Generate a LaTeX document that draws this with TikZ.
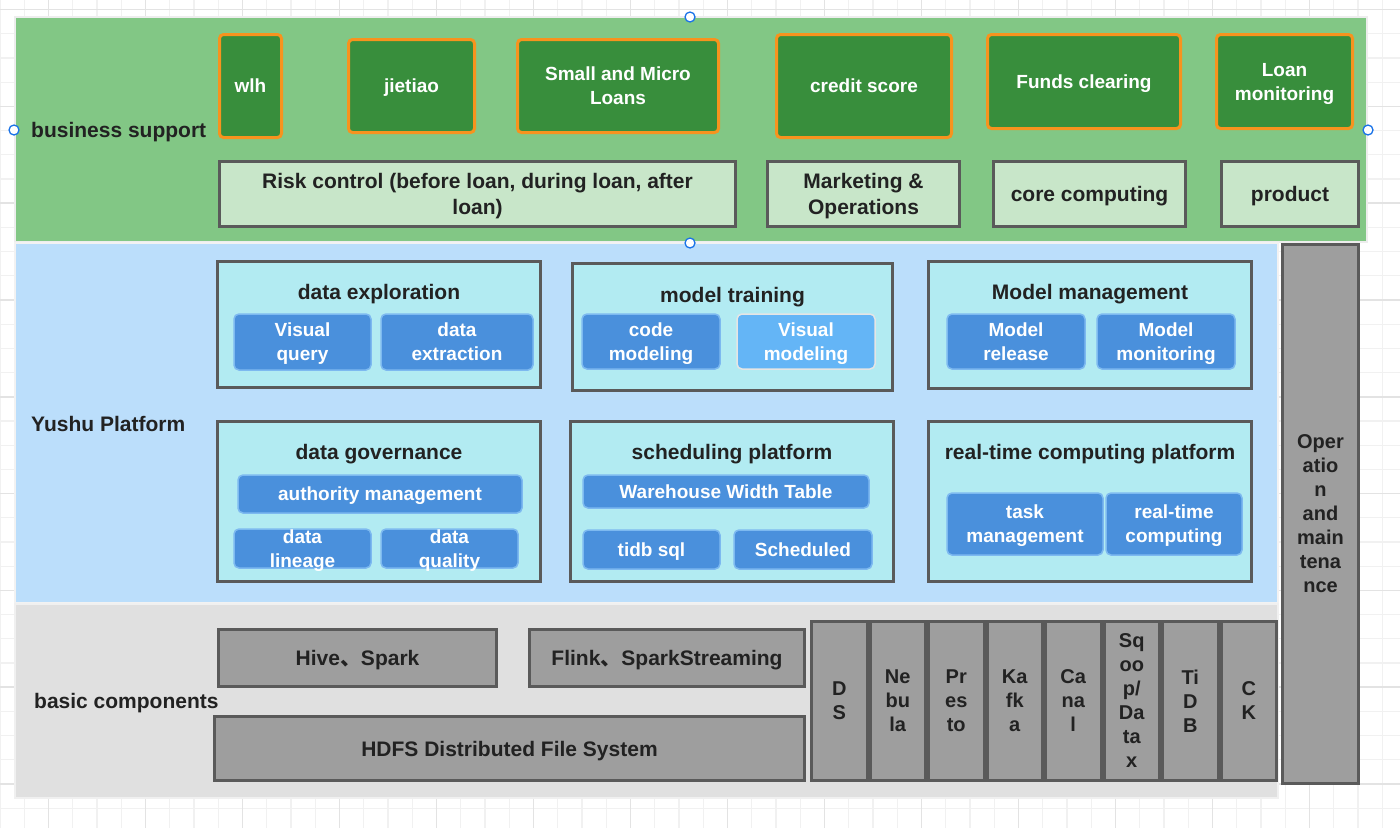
\documentclass[tikz,border=0pt]{standalone}
\usepackage{fontspec}
\setmainfont{Liberation Sans}
\newfontfamily\cjk{Noto Sans CJK SC}

\definecolor{gridminor}{HTML}{F1F1F1}
\definecolor{gridmajor}{HTML}{E3E3E3}
\definecolor{panelgreen}{HTML}{82C785}
\definecolor{panelblue}{HTML}{BBDEFB}
\definecolor{panelgray}{HTML}{E0E0E0}
\definecolor{bizgreen}{HTML}{388E3C}
\definecolor{bizorange}{HTML}{F7931E}
\definecolor{lightgreen}{HTML}{C8E6C9}
\definecolor{edgegray}{HTML}{5A5A5A}
\definecolor{modcyan}{HTML}{B2EBF2}
\definecolor{toolblue}{HTML}{4A90DC}
\definecolor{tooledge}{HTML}{7DB9F0}
\definecolor{toolpale}{HTML}{64B5F6}
\definecolor{compgray}{HTML}{9E9E9E}
\definecolor{txtdark}{HTML}{222222}
\definecolor{handleblue}{HTML}{1A73E8}

\begin{document}
\begin{tikzpicture}[x=1pt,y=-1pt,
    lbl/.style={anchor=west,inner sep=0pt,text=txtdark,font=\bfseries\fontsize{21}{24}\selectfont},
    biz/.style={draw=bizorange,line width=3pt,fill=bizgreen,rounded corners=4pt,inner sep=0pt,text depth=0pt,
        text=white,align=center,font=\bfseries\fontsize{19}{24}\selectfont},
    area/.style={draw=edgegray,line width=3pt,fill=lightgreen,inner sep=0pt,minimum height=65,text depth=0pt,
        text=txtdark,align=center,font=\bfseries\fontsize{21}{26}\selectfont},
    module/.style={draw=edgegray,line width=3pt,fill=modcyan,inner sep=0pt,minimum width=323},
    title/.style={inner sep=0pt,text=txtdark,font=\bfseries\fontsize{21}{24}\selectfont},
    tool/.style={draw=tooledge,line width=1.5pt,fill=toolblue,rounded corners=5pt,inner sep=0pt,text depth=0pt,
        text=white,align=center,font=\bfseries\fontsize{19}{24}\selectfont},
    comp/.style={draw=edgegray,line width=3pt,fill=compgray,inner sep=0pt,text depth=0pt,
        text=txtdark,align=center,font=\bfseries\fontsize{21}{24}\selectfont},
    narrow/.style={font=\bfseries\fontsize{20}{24}\selectfont},
    handle/.style={draw=handleblue,line width=1.3pt,fill=white}]
    \useasboundingbox (0,0) rectangle (1400,828);

    % canvas grid
    \fill[white] (0,0) rectangle (1400,828);
    \foreach \k in {0,...,57}
        \draw[gridminor,line width=1.2pt] (24.25*\k,0)--(24.25*\k,828);
    \foreach \k in {0,...,34}
        \draw[gridminor,line width=1.2pt] (0,9.6+24.2*\k)--(1400,9.6+24.2*\k);
    \foreach \k in {2,6,...,58}
        \draw[gridmajor,line width=1.6pt] (24.25*\k,0)--(24.25*\k,828);
    \foreach \k in {0,4,...,32}
        \draw[gridmajor,line width=1.6pt] (0,9.6+24.2*\k)--(1400,9.6+24.2*\k);

    % layers
    \filldraw[fill=panelgreen,draw=black!7,line width=2pt] (15,17) rectangle (1367,242);
    \filldraw[fill=panelblue,draw=black!5,line width=2pt] (15,243) rectangle (1278,603);
    \filldraw[fill=panelgray,draw=black!6,line width=2pt] (15,604) rectangle (1278,798);

    \node[lbl] (bizlbl) at (31,132) {business support};
    \node[lbl] (yushulbl) at (31,424) {Yushu Platform};
    \node[lbl] (baselbl) at (34,703) {basic components};

    % business support
    \node[biz,minimum width=62,minimum height=103] (wlh) at (250.5,86) {wlh};
    \node[biz,minimum width=126,minimum height=93] (jietiao) at (411.5,86) {jietiao};
    \node[biz,minimum width=201,minimum height=93] (micro) at (618,86) {Small and Micro\\Loans};
    \node[biz,minimum width=175,minimum height=103] (credit) at (864,86) {credit score};
    \node[biz,minimum width=193,minimum height=94] (funds) at (1084,81.5) {Funds clearing};
    \node[biz,minimum width=136,minimum height=94] (loanmon) at (1284.5,81.5) {Loan\\monitoring};

    \node[area,minimum width=516] (risk) at (477.5,194) {Risk control (before loan, during loan, after\\loan)};
    \node[area,minimum width=192] (market) at (863.5,194) {Marketing \&\\Operations};
    \node[area,minimum width=192] (core) at (1089.5,194) {core computing};
    \node[area,minimum width=137] (product) at (1290,194) {product};

    % Yushu platform
    \node[module,minimum height=126] (explore) at (379,324.5) {};
    \node[module,minimum width=320,minimum height=127] (train) at (732.5,327) {};
    \node[module,minimum height=127] (manage) at (1090,325) {};
    \node[module,minimum height=160] (govern) at (379,501.5) {};
    \node[module,minimum height=160] (sched) at (732,501.5) {};
    \node[module,minimum height=160] (realtime) at (1090,501.5) {};

    \node[title] (exploret) at (379,294) {data exploration};
    \node[title] (traint) at (732.5,297) {model training};
    \node[title] (managet) at (1090,294) {Model management};
    \node[title] (governt) at (379,454) {data governance};
    \node[title] (schedt) at (732,454) {scheduling platform};
    \node[title] (realtimet) at (1090,454) {real-time computing platform};

    \node[tool,minimum width=137,minimum height=56] (vquery) at (302.5,342) {Visual\\query};
    \node[tool,minimum width=152,minimum height=56] (extract) at (457,342) {data\\extraction};
    \node[tool,minimum width=138,minimum height=55] (codemod) at (651,341.5) {code\\modeling};
    \node[tool,fill=toolpale,draw=white!80!gray,minimum width=138,minimum height=55] (vismod) at (806,341.5) {Visual\\modeling};
    \node[tool,minimum width=138,minimum height=55] (release) at (1016,341.5) {Model\\release};
    \node[tool,minimum width=138,minimum height=55] (monitor) at (1166,341.5) {Model\\monitoring};

    \node[tool,minimum width=284,minimum height=38] (authority) at (380,494) {authority management};
    \node[tool,minimum width=137,minimum height=39] (lineage) at (302.5,548.5) {data\\lineage};
    \node[tool,minimum width=137,minimum height=39] (quality) at (449.5,548.5) {data\\quality};
    \node[tool,minimum width=286,minimum height=33] (wide) at (726,491.5) {Warehouse Width Table};
    \node[tool,minimum width=137,minimum height=39] (tidbsql) at (651.5,549.5) {tidb sql};
    \node[tool,minimum width=138,minimum height=39] (timed) at (803,549.5) {Scheduled};
    \node[tool,minimum width=156,minimum height=62] (task) at (1025,524) {task\\management};
    \node[tool,minimum width=136,minimum height=62] (rtcomp) at (1174,524) {real-time\\computing};

    % basic components
    \node[comp,minimum width=278,minimum height=57] (hive) at (357.5,658) {Hive{\cjk 、}Spark};
    \node[comp,minimum width=275,minimum height=57] (flink) at (667,658) {Flink{\cjk 、}SparkStreaming};
    \node[comp,minimum width=590,minimum height=64] (hdfs) at (509.5,748.5) {HDFS Distributed File System};
    \foreach \t [count=\i] in {{D\\S},{Ne\\bu\\la},{Pr\\es\\to},{Ka\\fk\\a},{Ca\\na\\l},{Sq\\oo\\p/\\Da\\ta\\x},{Ti\\D\\B},{C\\K}}
        \node[comp,narrow,minimum width=55.5,minimum height=159] (col\i) at (810+58.5*\i-29.25,701) {\t};

    \node[comp,narrow,minimum width=76,minimum height=539] (ops) at (1320.5,514) {Oper\\atio\\n\\and\\main\\tena\\nce};

    % selection handles
    \draw[handle] (690,17) circle (5);
    \draw[handle] (14,130) circle (5);
    \draw[handle] (1368,130) circle (5);
    \draw[handle] (690,243) circle (5);
\end{tikzpicture}
\end{document}
